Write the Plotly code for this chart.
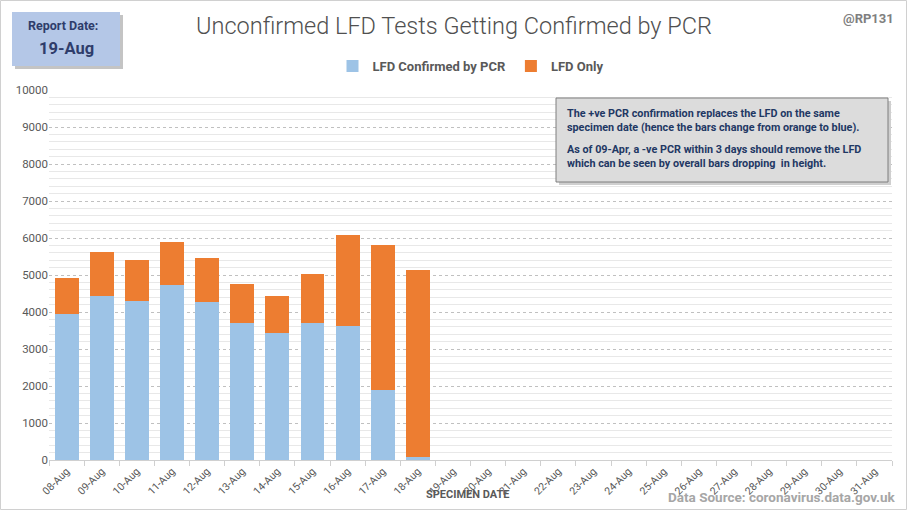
import plotly.graph_objects as go

dates = ["08-Aug", "09-Aug", "10-Aug", "11-Aug", "12-Aug", "13-Aug", "14-Aug", "15-Aug",
         "16-Aug", "17-Aug", "18-Aug", "19-Aug", "20-Aug", "21-Aug", "22-Aug", "23-Aug",
         "24-Aug", "25-Aug", "26-Aug", "27-Aug", "28-Aug", "29-Aug", "30-Aug", "31-Aug"]
lfd_confirmed = [3955, 4440, 4310, 4740, 4280, 3710, 3440, 3690, 3630, 1900, 70,
                 0, 0, 0, 0, 0, 0, 0, 0, 0, 0, 0, 0, 0]
lfd_total = [4930, 5630, 5410, 5900, 5470, 4770, 4440, 5040, 6090, 5820, 5140,
             0, 0, 0, 0, 0, 0, 0, 0, 0, 0, 0, 0, 0]
lfd_only = [t - c for t, c in zip(lfd_total, lfd_confirmed)]

W, H = 908, 511
L, R, T, B = 49, 16, 90, 51
PW, PH = W - L - R, H - T - B

def px(x):
    return (x - L) / PW

def py(y):
    return (H - B - y) / PH

fig = go.Figure()
fig.add_trace(go.Bar(x=dates, y=lfd_confirmed, name="LFD Confirmed by PCR",
                     marker=dict(color="#9dc3e6", line=dict(width=0))))
fig.add_trace(go.Bar(x=dates, y=lfd_only, name="LFD Only",
                     marker=dict(color="#ed7d31", line=dict(width=0))))

grey = "#595959"
navy = "#1f3864"
FONT = "Roboto"
shapes = [
    dict(type="rect", xref="paper", yref="paper", x0=px(0.5), x1=px(W - 1.5), y0=py(H - 1.5), y1=py(0.5),
         line=dict(color="#d0d0d0", width=1), fillcolor="rgba(0,0,0,0)", layer="below"),
    dict(type="rect", xref="paper", yref="paper", x0=px(15), x1=px(123), y0=py(69), y1=py(15),
         line=dict(width=0), fillcolor="#c4c4c4", layer="above"),
    dict(type="rect", xref="paper", yref="paper", x0=px(12), x1=px(120), y0=py(66), y1=py(12),
         line=dict(width=0), fillcolor="#b4c7e7", layer="above"),
    dict(type="rect", xref="paper", yref="paper", x0=px(559), x1=px(891), y0=py(185), y1=py(101),
         line=dict(width=0), fillcolor="#cfcfcf", layer="above"),
    dict(type="rect", xref="paper", yref="paper", x0=px(556), x1=px(888), y0=py(182), y1=py(98),
         line=dict(color="#7f7f7f", width=1), fillcolor="#dcdcdc", layer="above"),
]

ann = [
    dict(text="<b>Report Date:</b>", x=px(63), y=py(25), xref="paper", yref="paper", showarrow=False,
         font=dict(size=12.5, color="#2f3d6b", family=FONT), xanchor="center", yanchor="middle"),
    dict(text="<b>19-Aug</b>", x=px(66), y=py(48), xref="paper", yref="paper", showarrow=False,
         font=dict(size=16.5, color="#2f3d6b", family=FONT), xanchor="center", yanchor="middle"),
    dict(text="<b>@RP131</b>", x=px(896), y=py(18), xref="paper", yref="paper", showarrow=False,
         font=dict(size=13, color="#7f7f7f", family=FONT), xanchor="right", yanchor="middle"),
    dict(text="<b>The +ve PCR confirmation replaces the LFD on the same<br>specimen date (hence the bars change from orange to blue).</b>",
         x=px(565), y=py(105), xref="paper", yref="paper", showarrow=False, align="left",
         font=dict(size=10.8, color=navy, family=FONT), xanchor="left", yanchor="top"),
    dict(text="<b>As of 09-Apr, a -ve PCR within 3 days should remove the LFD<br>which can be seen by overall bars dropping  in height.</b>",
         x=px(565), y=py(141), xref="paper", yref="paper", showarrow=False, align="left",
         font=dict(size=10.8, color=navy, family=FONT), xanchor="left", yanchor="top"),
    dict(text="<b>SPECIMEN DATE</b>", x=px(468), y=py(494), xref="paper", yref="paper", showarrow=False,
         font=dict(size=11, color=grey, family=FONT), xanchor="center", yanchor="middle"),
    dict(text="<b>Data Source: coronavirus.data.gov.uk</b>", x=px(898), y=py(497), xref="paper", yref="paper",
         showarrow=False, font=dict(size=13.5, color="#a6a6a6", family=FONT),
         xanchor="right", yanchor="middle"),
]

fig.update_layout(
    width=W, height=H,
    margin=dict(l=L, r=R, t=T, b=B),
    paper_bgcolor="white", plot_bgcolor="white",
    barmode="stack", bargap=0.32,
    font=dict(family=FONT, color=grey),
    title=dict(text="Unconfirmed LFD Tests Getting Confirmed by PCR", x=0.5, xanchor="center",
               xref="container", y=1 - 26 / H, yanchor="middle",
               font=dict(size=23.5, color="#505050", family=FONT, weight=300)),
    legend=dict(orientation="h", x=0.5, xanchor="center", y=py(66), yanchor="middle",
                font=dict(size=13, color=grey, family=FONT, weight="bold"),
                itemwidth=30, bgcolor="rgba(0,0,0,0)", traceorder="normal"),
    xaxis=dict(type="category", tickangle=-45, tickfont=dict(size=10.5, color=grey),
               showline=True, linecolor="#d0d0d0", ticks="outside", tickson="boundaries",
               ticklen=5, tickcolor="#d0d0d0", showgrid=False),
    yaxis=dict(range=[0, 10000], dtick=1000, tickformat="d", tickfont=dict(size=11.5, color=grey),
               showgrid=True, gridcolor="#c0c0c0", griddash="dot", gridwidth=1,
               zeroline=False, showline=False, ticks="",
               minor=dict(dtick=200, showgrid=True, gridcolor="#e8e8e8", gridwidth=1, griddash="solid")),
    shapes=shapes, annotations=ann,
)

fig.write_html("out.html")
